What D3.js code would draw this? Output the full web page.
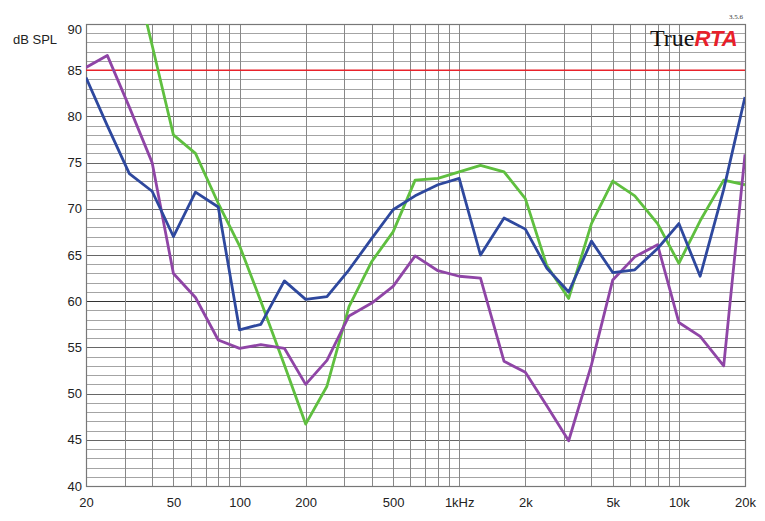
<!DOCTYPE html>
<html>
<head>
<meta charset="utf-8">
<script src="https://cdn.jsdelivr.net/npm/d3@7"></script>
<style>
  body { margin: 0; background: #fff; }
  svg text { font-family: "Liberation Sans", Arial, sans-serif; }
</style>
</head>
<body>
<div id="chart"></div>
<script>
// 1/3 octave band centres
var freqs = [20, 25, 31.5, 40, 50, 63, 80, 100, 125, 160, 200, 250, 315, 400, 500, 630,
  800, 1000, 1250, 1600, 2000, 2500, 3150, 4000, 5000, 6300, 8000, 10000, 12500, 16000, 20000];

var greenVals = [null, null, 98, 87.7, 78.0, 76.0, 70.6, 66.0, 60.0, 53.1, 46.7, 50.8, 59.4, 64.3, 67.5, 73.1,
  73.3, 74.0, 74.7, 74.0, 71.1, 63.9, 60.3, 68.4, 73.0, 71.4, 68.4, 64.1, 68.7, 73.1, 72.6];

var blueVals = [84.2, 79.0, 73.8, 71.9, 67.0, 71.8, 70.2, 56.9, 57.5, 62.2, 60.2, 60.5, 63.4, 66.8, 69.9, 71.4,
  72.6, 73.3, 65.0, 69.0, 67.8, 63.6, 61.0, 66.5, 63.1, 63.4, 65.7, 68.4, 62.7, 72.1, 82.1];

var purpleVals = [85.3, 86.6, 81.0, 75.0, 63.0, 60.4, 55.8, 54.9, 55.3, 54.9, 51.0, 53.6, 58.4, 59.8, 61.6, 64.9,
  63.3, 62.7, 62.5, 53.5, 52.3, 48.7, 44.9, 53.1, 62.3, 64.8, 66.1, 57.7, 56.2, 53.0, 75.9];

var refLevel = 85;

var xTicks = [20, 50, 100, 200, 500, 1000, 2000, 5000, 10000, 20000];
var xTickLabels = ["20", "50", "100", "200", "500", "1kHz", "2k", "5k", "10k", "20k"];
var yTicks = [40, 45, 50, 55, 60, 65, 70, 75, 80, 85, 90];

var width = 765, height = 521;
var margin = {top: 24, right: 20, bottom: 35, left: 86};

var svg = d3.select('#chart').append('svg')
  .attr('width', width)
  .attr('height', height);

var x = d3.scaleLog()
  .domain([20, 20000])
  .range([margin.left, width - margin.right]);

var y = d3.scaleLinear()
  .domain([40, 90])
  .range([height - margin.bottom, margin.top]);

var x0 = x.range()[0], x1 = x.range()[1];
var y0 = y.range()[0], y1 = y.range()[1];

// horizontal grid, one line per dB
var hLines = d3.range(41, 90);
svg.append('g').selectAll('line')
  .data(hLines)
  .enter().append('line')
  .attr('x1', x0).attr('x2', x1)
  .attr('y1', function(d) { return Math.round(y(d)) + 0.5; })
  .attr('y2', function(d) { return Math.round(y(d)) + 0.5; })
  .style('stroke', function(d) {
    if (d === 60) return '#333';
    return (d % 5 === 0) ? '#666' : '#a4a4a4';
  })
  .style('stroke-width', 1);

// vertical grid, decades with 2..9 subdivisions
var vLines = [];
[10, 100, 1000, 10000].forEach(function(dec) {
  for (var k = 1; k <= 9; k++) {
    var f = dec * k;
    if (f > 20 && f < 20000) vLines.push(f);
  }
});
svg.append('g').selectAll('line')
  .data(vLines)
  .enter().append('line')
  .attr('y1', y0).attr('y2', y1)
  .attr('x1', function(d) { return Math.round(x(d)) + 0.5; })
  .attr('x2', function(d) { return Math.round(x(d)) + 0.5; })
  .style('stroke', '#888')
  .style('stroke-width', 1);

// frame
svg.append('rect')
  .attr('x', x0 + 0.5).attr('y', y1 + 0.5)
  .attr('width', x1 - x0).attr('height', y0 - y1)
  .style('fill', 'none')
  .style('stroke', '#777')
  .style('stroke-width', 1.2);

// reference line
svg.append('line')
  .attr('x1', x0).attr('x2', x1)
  .attr('y1', y(refLevel)).attr('y2', y(refLevel))
  .style('stroke', '#e8232b')
  .style('stroke-width', 1.6);

svg.append('clipPath').attr('id', 'plot-clip')
  .append('rect')
  .attr('x', x0).attr('y', y1)
  .attr('width', x1 - x0).attr('height', y0 - y1);

var line = d3.line()
  .defined(function(d) { return d.v !== null; })
  .x(function(d) { return x(d.f); })
  .y(function(d) { return y(d.v); });

var series = [
  {vals: greenVals, color: '#5fbf3f'},
  {vals: purpleVals, color: '#8f45a6'},
  {vals: blueVals, color: '#2e489e'}
];

var lines = svg.append('g').attr('clip-path', 'url(#plot-clip)');
series.forEach(function(s) {
  var pts = freqs.map(function(f, i) { return {f: f, v: s.vals[i]}; });
  lines.append('path')
    .datum(pts)
    .attr('d', line)
    .style('fill', 'none')
    .style('stroke', s.color)
    .style('stroke-width', 2.8)
    .style('stroke-linejoin', 'round');
});

// axes
var xAxis = svg.append('g')
  .attr('transform', 'translate(0,' + (y0 + 9) + ')')
  .call(d3.axisBottom(x).tickValues(xTicks).tickSize(0)
    .tickFormat(function(d, i) { return xTickLabels[i]; }));
xAxis.select('.domain').remove();
xAxis.selectAll('text')
  .style('font-size', '13px')
  .style('fill', '#222');

var yAxis = svg.append('g')
  .attr('transform', 'translate(' + (x0 - 4) + ',0)')
  .call(d3.axisLeft(y).tickValues(yTicks).tickSize(0).tickPadding(0));
yAxis.select('.domain').remove();
yAxis.selectAll('text')
  .style('font-size', '13px')
  .style('fill', '#222')
  .attr('y', function(d) { return d === 90 ? 5 : 0; });

svg.append('text')
  .attr('x', 13).attr('y', 44)
  .style('font-size', '13px')
  .style('fill', '#222')
  .text('dB SPL');

// logo
var logo = svg.append('text')
  .attr('x', 650).attr('y', 46);
logo.append('tspan')
  .style('font-family', '"Liberation Serif", "Times New Roman", serif')
  .style('font-size', '24px')
  .style('fill', '#111')
  .text('True');
logo.append('tspan')
  .style('font-family', '"Liberation Sans", Arial, sans-serif')
  .style('font-size', '22px')
  .style('font-weight', 'bold')
  .style('font-style', 'italic')
  .style('fill', '#e8202a')
  .text('RTA');

svg.append('text')
  .attr('x', 743).attr('y', 19)
  .attr('text-anchor', 'end')
  .style('font-family', '"Liberation Serif", serif')
  .style('font-size', '7px')
  .style('fill', '#333')
  .text('3.5.6');
</script>
</body>
</html>
